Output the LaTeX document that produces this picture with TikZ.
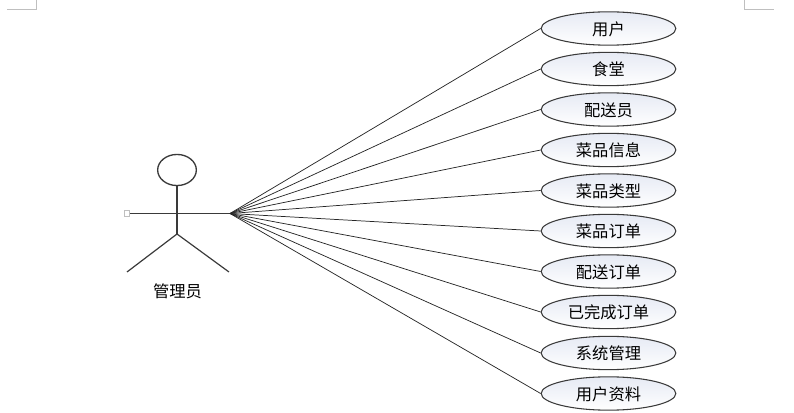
\documentclass[tikz,border=0pt]{standalone}
\usepackage{fontspec}
\newfontfamily\cjk{Noto Sans CJK SC}
\definecolor{ucfill}{HTML}{E6EAF4}
\definecolor{ucline}{HTML}{3A3A3A}
\definecolor{mark}{HTML}{BFBFBF}
\tikzset{
  usecase/.style={ellipse,draw=ucline,line width=0.8pt,minimum width=101pt,minimum height=25pt,inner sep=0pt,
    top color=ucfill,bottom color=white,font=\cjk\fontsize{12.2}{14}\selectfont,text=black,text depth=0pt,xshift=0pt},
  stick/.style={draw=ucline,line width=1.25pt},
  link/.style={draw=black!85,line width=0.55pt},
  cornermark/.style={draw=mark,line width=0.6pt}
}
\usetikzlibrary{shapes.geometric}
\begin{document}
\begin{tikzpicture}[x=0.75pt,y=-0.75pt]
\useasboundingbox (0,0) rectangle (794,413);
\draw[cornermark] (7,9) -- (36,9) -- (36,0);
\draw[cornermark] (744,0) -- (744,9) -- (774,9);
\node[usecase] (u1) at (608.5,28.5) {用户};
\node[usecase] (u2) at (608.5,69) {食堂};
\node[usecase] (u3) at (608.5,109.5) {配送员};
\node[usecase] (u4) at (608.5,150) {菜品信息};
\node[usecase] (u5) at (608.5,190.5) {菜品类型};
\node[usecase] (u6) at (608.5,231) {菜品订单};
\node[usecase] (u7) at (608.5,271.5) {配送订单};
\node[usecase] (u8) at (608.5,312) {已完成订单};
\node[usecase] (u9) at (608.5,353) {系统管理};
\node[usecase] (u10) at (608.5,393.5) {用户资料};
\node[ellipse,draw=ucline,line width=1pt,minimum width=29pt,minimum height=23.3pt,inner sep=0pt] (head) at (177,170) {};
\coordinate (hand) at (127,213.5);
\coordinate (hub) at (230,213.5);
\coordinate (hip) at (177,234);
\coordinate (lfoot) at (127,272);
\coordinate (rfoot) at (229,272);
\draw[stick] (head.south) -- (hip);
\draw[stick] (hand) -- (hub);
\draw[draw=ucline,line width=0.9pt] (lfoot) -- (hip) -- (rfoot);
\node[draw=mark,fill=white,line width=0.7pt,minimum size=4.2pt,inner sep=0pt] (handle) at (hand) {};
\node[font=\cjk\fontsize{12.2}{14}\selectfont] (actor) at (177.5,291) {管理员};
\foreach \i in {1,...,10} \draw[link] (hub) -- (u\i.west);
\end{tikzpicture}
\end{document}
